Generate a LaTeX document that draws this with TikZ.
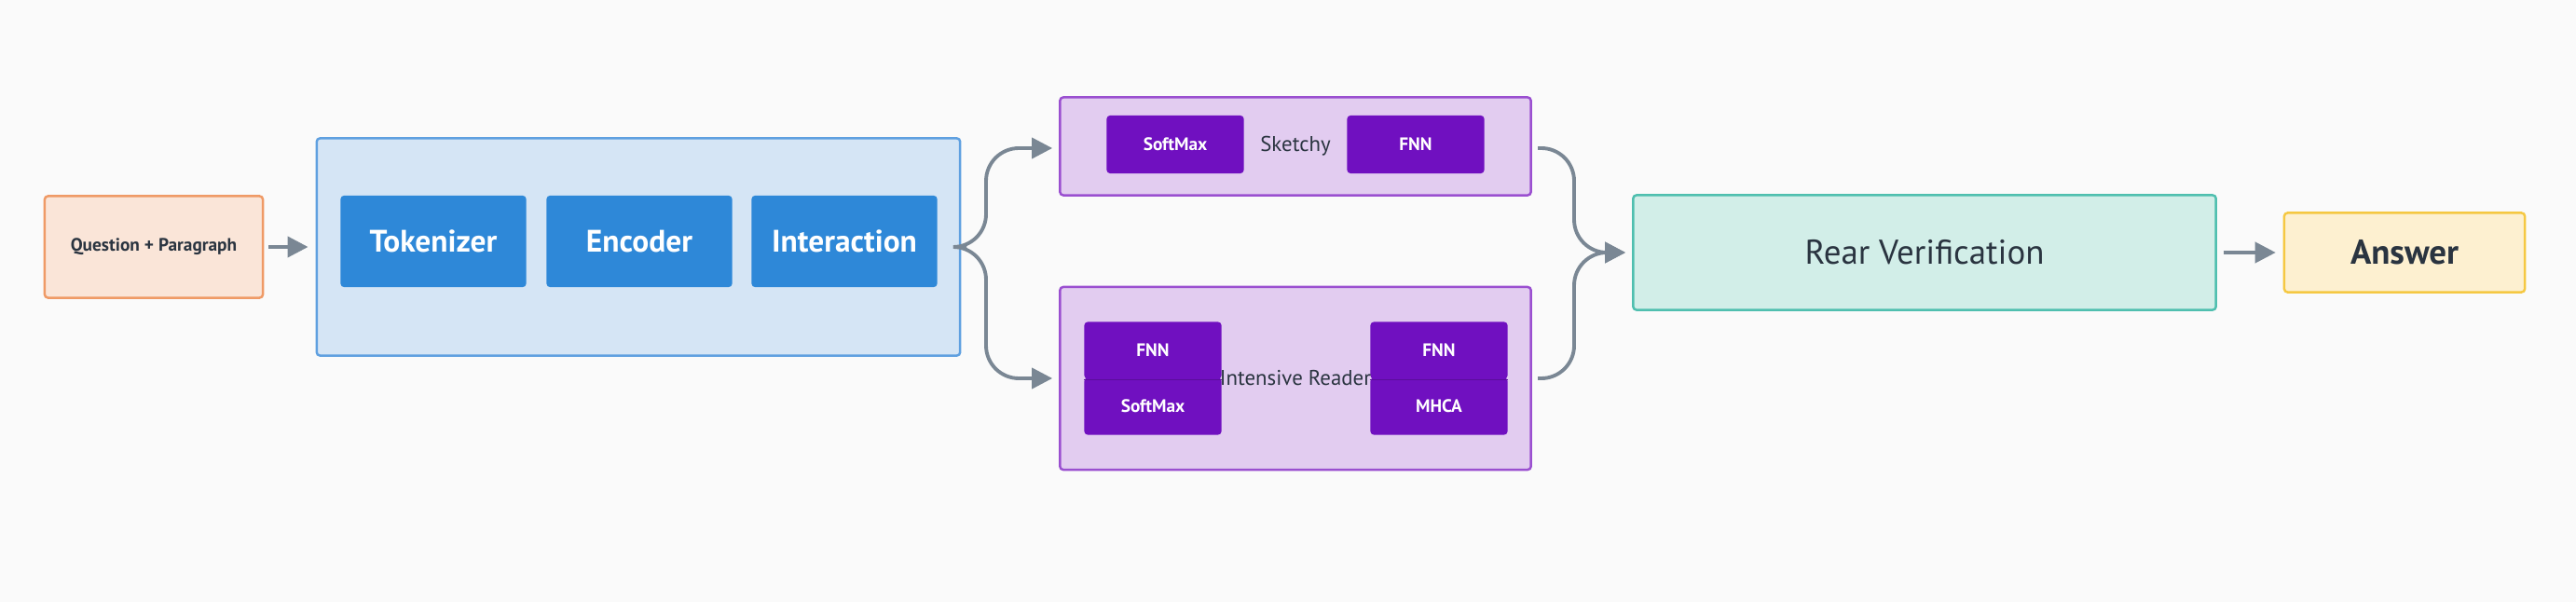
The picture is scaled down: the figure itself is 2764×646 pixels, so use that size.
\documentclass[tikz,border=0pt]{standalone}
\usepackage{fontspec}
\setmainfont{PT Sans}
\usetikzlibrary{arrows.meta}
\definecolor{qfill}{HTML}{FAE5D8}\definecolor{qdraw}{HTML}{EF9A66}
\definecolor{bfill}{HTML}{D5E5F5}\definecolor{bdraw}{HTML}{5FA0E0}
\definecolor{binner}{HTML}{2E88D8}
\definecolor{pfill}{HTML}{E2CCF0}\definecolor{pdraw}{HTML}{9A4FD0}
\definecolor{pinner}{HTML}{7010C0}
\definecolor{rfill}{HTML}{D2EEE8}\definecolor{rdraw}{HTML}{4FBFAF}
\definecolor{afill}{HTML}{FDF0D0}\definecolor{adraw}{HTML}{F5C842}
\definecolor{conncol}{HTML}{7A8794}\definecolor{txt}{HTML}{2A3440}
\begin{document}
\begin{tikzpicture}[x=0.01cm,y=-0.01cm,
  box/.style={rectangle,inner sep=0pt,line width=0.7pt,rounded corners=1pt,text=txt},
  inner/.style={rectangle,inner sep=0pt,rounded corners=1pt,text=white,font=\bfseries},
  conn/.style={draw=conncol,line width=1.1pt,-{Triangle[length=2.2mm,width=2.2mm]}},
  brace/.style={draw=conncol,line width=1.1pt,rounded corners=10pt,-{Triangle[length=2.2mm,width=2.2mm]},shorten >=0.7mm}]
\fill[white!98!black] (0,0) rectangle (2764,646);
\useasboundingbox (0,0) rectangle (2764,646);
% input
\node[box,fill=qfill,draw=qdraw,minimum width=2.34cm,minimum height=1.09cm,font=\fontsize{5.5}{6}\selectfont\bfseries] (q) at (165,265) {Question + Paragraph};
\node[box,fill=bfill,draw=bdraw,minimum width=6.9cm,minimum height=2.33cm] (blue) at (685,265) {};
\node[inner,fill=binner,minimum width=1.99cm,minimum height=0.98cm,font=\fontsize{9.5}{10}\selectfont\bfseries] (tok) at (465,259) {Tokenizer};
\node[inner,fill=binner,minimum width=1.99cm,minimum height=0.98cm,font=\fontsize{9.5}{10}\selectfont\bfseries] (enc) at (686,259) {Encoder};
\node[inner,fill=binner,minimum width=1.99cm,minimum height=0.98cm,font=\fontsize{9.5}{10}\selectfont\bfseries] (int) at (906,259) {Interaction};
% sketchy
\node[box,fill=pfill,draw=pdraw,minimum width=5.05cm,minimum height=1.05cm,font=\fontsize{6.5}{7}\selectfont] (sk) at (1390,157) {Sketchy};
\node[inner,fill=pinner,minimum width=1.47cm,minimum height=0.62cm,font=\fontsize{5.5}{6}\selectfont\bfseries] (sm1) at (1261,155) {SoftMax};
\node[inner,fill=pinner,minimum width=1.47cm,minimum height=0.62cm,font=\fontsize{5.5}{6}\selectfont\bfseries] (fn1) at (1519,155) {FNN};
% intensive
\node[box,fill=pfill,draw=pdraw,minimum width=5.05cm,minimum height=1.96cm] (ir) at (1390,406) {};
\node[inner,fill=pinner,minimum width=1.47cm,minimum height=0.61cm,font=\fontsize{5.5}{6}\selectfont\bfseries] (lf) at (1237,376) {FNN};
\node[inner,fill=pinner,minimum width=1.47cm,minimum height=0.61cm,font=\fontsize{5.5}{6}\selectfont\bfseries] (ls) at (1237,436) {SoftMax};
\node[inner,fill=pinner,minimum width=1.47cm,minimum height=0.61cm,font=\fontsize{5.5}{6}\selectfont\bfseries] (rf) at (1544,376) {FNN};
\node[inner,fill=pinner,minimum width=1.47cm,minimum height=0.61cm,font=\fontsize{5.5}{6}\selectfont\bfseries] (rm) at (1544,436) {MHCA};
\node[text=txt,font=\fontsize{6.5}{7}\selectfont,inner sep=0pt] (irl) at (1390,406) {Intensive Reader};
\draw[pinner!80!black,line width=0.3pt] (lf.south west) -- (lf.south east) (rf.south west) -- (rf.south east);
% rear & answer
\node[box,fill=rfill,draw=rdraw,minimum width=6.25cm,minimum height=1.23cm,font=\fontsize{10.5}{11}\selectfont] (rear) at (2065,271) {Rear Verification};
\node[box,fill=afill,draw=adraw,minimum width=2.58cm,minimum height=0.85cm,font=\fontsize{10.5}{11}\selectfont\bfseries] (ans) at (2580,271) {Answer};
% connectors
\coordinate (lc) at (1037,265);
\coordinate (rc1) at (1650,159);
\coordinate (rc2) at (1650,406);
\draw[conn,shorten <=0.5mm,shorten >=0.8mm] (q) -- (blue);
\draw[brace] (lc) -| (1058,159) -- (sk.west |- 0,159);
\draw[brace] (lc) -| (1058,406) -- (ir.west);
\draw[brace] (rc1) -| (1689,271) -- (rear.west);
\draw[brace] (rc2) -| (1689,271) -- (rear.west);
\draw[conn,shorten <=0.7mm,shorten >=0.8mm] (rear) -- (ans);
\end{tikzpicture}
\end{document}
